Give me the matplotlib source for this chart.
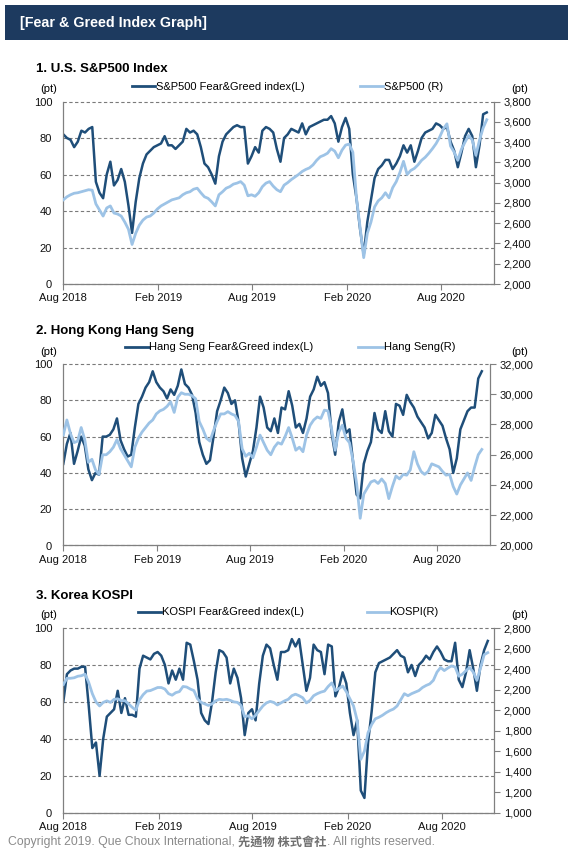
import matplotlib
matplotlib.use("Agg")
import matplotlib.pyplot as plt
import pandas as pd
from matplotlib.ticker import FuncFormatter, MultipleLocator
from matplotlib.lines import Line2D
from matplotlib.patches import Rectangle

plt.rcParams['font.family'] = ['Liberation Sans', 'DejaVu Sans']

W, H = 572, 855
DARK = '#1f4e79'
LIGHT = '#9dc3e6'
GRAY = '#808080'

# ---------------- data (weekly, from Aug 2018) ----------------
start = pd.Timestamp('2018-08-01')
weeks = pd.date_range(start, periods=118, freq='7D')

spx_fg = [82, 80, 79, 75, 78, 84, 83, 85, 86, 56,
          50, 47, 60, 67, 54, 57, 63, 56, 43, 28,
          45, 58, 66, 71, 73, 75, 76, 77, 81, 76,
          76, 74, 76, 78, 85, 83, 84, 82, 75, 66,
          64, 60, 55, 70, 78, 82, 84, 86, 87, 86,
          86, 66, 70, 75, 72, 84, 86, 85, 83, 74,
          67, 80, 82, 85, 84, 83, 88, 82, 86, 87,
          88, 89, 90, 90, 92, 88, 78, 86, 91, 85,
          60, 47, 30, 16, 34, 46, 58, 63, 65, 68,
          68, 63, 66, 70, 76, 72, 76, 67, 73, 80,
          83, 84, 85, 88, 87, 85, 86, 78, 73, 64,
          72, 81, 85, 81, 64, 76, 93, 94]
spx = [2830, 2860, 2880, 2895, 2900, 2910, 2920, 2930, 2925, 2790,
       2730, 2670, 2750, 2770, 2700, 2690, 2670, 2610, 2540, 2390,
       2500, 2580, 2630, 2660, 2670, 2700, 2740, 2770, 2790, 2810,
       2830, 2840, 2850, 2880, 2900, 2910, 2935, 2945, 2900, 2860,
       2845, 2810, 2770, 2880, 2910, 2945, 2960, 2985, 2995, 3010,
       2975, 2870, 2880, 2865, 2900, 2960, 2995, 3010, 2965, 2930,
       2910, 2975, 3000, 3030, 3055, 3080, 3110, 3130, 3145, 3175,
       3220, 3255, 3270, 3290, 3335, 3310, 3245, 3320, 3370, 3380,
       3300, 2850, 2560, 2260, 2500, 2610, 2760, 2820, 2850, 2900,
       2850, 2950, 3010, 3100, 3210, 3080, 3120, 3140, 3175, 3220,
       3250, 3290, 3335, 3385, 3450, 3530, 3580, 3360, 3300, 3220,
       3330, 3400, 3465, 3420, 3270, 3420, 3540, 3620]

hsi_fg = [45, 56, 62, 45, 52, 60, 55, 42, 36, 40,
          39, 60, 60, 61, 64, 70, 58, 53, 49, 50,
          65, 78, 82, 87, 90, 96, 90, 87, 85, 81,
          86, 83, 88, 97, 89, 87, 83, 73, 57, 50,
          45, 47, 60, 74, 80, 87, 84, 78, 80, 68,
          48, 38, 45, 52, 65, 82, 76, 65, 63, 70,
          62, 76, 75, 85, 77, 65, 67, 62, 70, 82,
          86, 93, 88, 90, 84, 62, 50, 68, 75, 62,
          64, 46, 28, 26, 45, 52, 57, 73, 64, 62,
          74, 63, 60, 78, 77, 72, 83, 79, 76, 71,
          68, 65, 59, 62, 72, 69, 66, 59, 53, 40,
          48, 64, 69, 74, 76, 76, 92, 96]
hsi = [27300, 28300, 27400, 26800, 26900, 27800, 27000, 25500, 25700, 25000,
       24700, 26000, 26000, 26200, 26500, 27000, 26400, 26000, 25600, 25200,
       26500, 27100, 27500, 27800, 28100, 28300, 28700, 28900, 29000, 29200,
       29500, 28800, 29800, 30100, 30000, 30000, 29900, 29700, 28200, 27700,
       27100, 26900, 27600, 28200, 28700, 28700, 28850, 28700, 28600, 28200,
       26400, 25900, 26100, 25800, 26500, 27300, 26800, 26300, 26000, 26500,
       26800, 26700, 27200, 27800, 27100, 26300, 26500, 26200, 27300, 27950,
       28300, 28500, 28400, 28950, 28900, 27700, 26300, 27500, 27950, 27100,
       26800, 25600, 24100, 21800, 23400, 23800, 24200, 24300, 24100, 24400,
       24100, 23100, 23900, 24600, 24400, 24700, 24650, 25000, 26200, 25400,
       24900, 24700, 24900, 25400, 25300, 25200, 24900, 24650, 24700, 23900,
       23400, 24000, 24400, 24800, 24300, 25200, 26000, 26350]

kospi_fg = [60, 75, 77, 78, 78, 79, 79, 58, 35, 38,
            20, 40, 52, 54, 56, 66, 54, 62, 53, 53,
            52, 78, 85, 84, 83, 86, 87, 85, 80, 70,
            77, 72, 78, 72, 92, 91, 82, 72, 54, 50,
            48, 60, 76, 88, 87, 84, 70, 78, 73, 62,
            42, 54, 56, 50, 70, 85, 91, 89, 80, 72,
            87, 87, 88, 94, 90, 94, 80, 66, 73, 91,
            88, 87, 75, 91, 90, 63, 68, 76, 70, 54,
            42, 50, 12, 8, 38, 55, 76, 81, 82, 83,
            84, 86, 88, 85, 84, 76, 80, 74, 80, 82,
            85, 83, 87, 90, 87, 83, 82, 82, 92, 72,
            68, 76, 88, 78, 66, 80, 88, 93]
kospi = [2250, 2310, 2310, 2315, 2330, 2335, 2350, 2270, 2160, 2080,
         2040, 2075, 2090, 2075, 2105, 2110, 2092, 2092, 2060, 2027,
         2000, 2100, 2150, 2185, 2190, 2205, 2220, 2220, 2205, 2160,
         2145, 2170, 2180, 2230, 2225, 2205, 2190, 2110, 2075, 2060,
         2045, 2060, 2090, 2105, 2100, 2105, 2095, 2080, 2075, 2045,
         1935, 1945, 1915, 1950, 1995, 2040, 2070, 2085, 2075, 2050,
         2070, 2090, 2105, 2140, 2155, 2140, 2120, 2070, 2095, 2140,
         2160, 2175, 2185, 2230, 2265, 2190, 2210, 2235, 2180, 2110,
         2040, 1900, 1520, 1600, 1780, 1860, 1915, 1930, 1950, 1975,
         1995, 2010, 2040, 2100, 2160, 2140, 2160, 2175, 2190, 2220,
         2240, 2255, 2290, 2370, 2415, 2385, 2410, 2430, 2420, 2330,
         2350, 2385, 2415, 2370, 2290, 2410, 2540, 2560]

xtick_dates = ['2018-08-01', '2019-02-01', '2019-08-01', '2020-02-01', '2020-08-01']
xtick_labels = ['Aug 2018', 'Feb 2019', 'Aug 2019', 'Feb 2020', 'Aug 2020']
left_ticks = [0, 20, 40, 60, 80, 100]

fig = plt.figure(figsize=(W / 100, H / 100), dpi=100)


def fx(x):
    return x / W


def fy(y):
    return 1 - y / H


# header banner
fig.add_artist(Rectangle((fx(5), fy(40.5)), fx(563), 35.5 / H, transform=fig.transFigure,
                         facecolor='#1d3a5f', edgecolor='none'))
fig.text(fx(20), fy(23), '[Fear & Greed Index Graph]', color='white', fontsize=10.3,
         fontweight='bold', va='center', ha='left')


def chart(box, title, title_y, leg_y, dark_seg, light_seg, dark_label, light_label,
          pt_y, fg, idx, rlim, rstep, xend_days):
    l, r, t, b = box
    ax = fig.add_axes([fx(l), fy(b), (r - l) / W, (b - t) / H])
    ax.plot(weeks, fg, color=DARK, lw=1.8, solid_joinstyle='round')
    ax.set_ylim(0, 100)
    ax.set_yticks(left_ticks)
    ax.set_xlim(start, start + pd.Timedelta(days=xend_days))
    ax.set_xticks(pd.to_datetime(xtick_dates))
    ax.set_xticklabels(xtick_labels)
    for s in ['top', 'right']:
        ax.spines[s].set_visible(False)
    for s in ['left', 'bottom']:
        ax.spines[s].set_color(GRAY)
        ax.spines[s].set_linewidth(0.9)
    ax.tick_params(axis='y', length=0, pad=8, labelsize=8, labelcolor='#111111')
    ax.tick_params(axis='x', length=4, width=0.8, color=GRAY, pad=2.5, labelsize=8,
                   labelcolor='#111111', direction='out')
    ax.yaxis.grid(True, color='#7a7a7a', linestyle=(0, (3, 2.2)), linewidth=0.8)
    ax.set_axisbelow(True)
    for gl in ax.get_ygridlines():
        gl.set_clip_on(False)
    ax.patch.set_alpha(0)

    ax2 = ax.twinx()
    ax2.plot(weeks, idx, color=LIGHT, lw=2.0, solid_joinstyle='round')
    ax2.set_ylim(*rlim)
    ax2.yaxis.set_major_locator(MultipleLocator(rstep))
    ax2.yaxis.set_major_formatter(FuncFormatter(lambda v, p: f'{int(round(v)):,}'))
    for s in ['top', 'left', 'bottom']:
        ax2.spines[s].set_visible(False)
    ax2.spines['right'].set_color(GRAY)
    ax2.spines['right'].set_linewidth(0.9)
    ax2.tick_params(axis='y', length=4, width=0.8, color=GRAY, pad=3, labelsize=8,
                    labelcolor='#111111', direction='out')

    # title
    fig.text(fx(35.5), fy(title_y), title, fontsize=9.5, fontweight='bold', va='center', ha='left')
    # legend
    fig.add_artist(Line2D([fx(dark_seg[0]), fx(dark_seg[1])], [fy(leg_y), fy(leg_y)],
                          color=DARK, lw=2.0, transform=fig.transFigure))
    fig.text(fx(dark_seg[1] + 0.5), fy(leg_y), dark_label, fontsize=8, va='center', ha='left')
    fig.add_artist(Line2D([fx(light_seg[0]), fx(light_seg[1])], [fy(leg_y), fy(leg_y)],
                          color=LIGHT, lw=2.0, transform=fig.transFigure))
    fig.text(fx(light_seg[1] + 0.5), fy(leg_y), light_label, fontsize=8, va='center', ha='left')
    # units
    fig.text(fx(48.5), fy(pt_y), '(pt)', fontsize=8, va='center', ha='center')
    fig.text(fx(520), fy(pt_y), '(pt)', fontsize=8, va='center', ha='center')
    return ax, ax2


chart((63.3, 494, 101.5, 284), '1. U.S. S&P500 Index', 69.5, 86.5, (131.7, 155), (360, 383),
      'S&P500 Fear&Greed index(L)', 'S&P500 (R)', 89.5, spx_fg, spx, (2000, 3800), 200, 833)
chart((63.3, 490, 364, 545.5), '2. Hong Kong Hang Seng', 331, 347, (125, 148.5), (357.5, 383),
      'Hang Seng Fear&Greed index(L)', 'Hang Seng(R)', 352, hsi_fg, hsi, (20000, 32000), 2000, 835)
chart((63.3, 494, 628, 812.7), '3. Korea KOSPI', 596, 612, (137.5, 161), (367, 389),
      'KOSPI Fear&Greed index(L)', 'KOSPI(R)', 615, kospi_fg, kospi, (1000, 2800), 200, 831)

# footer
fig.canvas.draw()
renderer = fig.canvas.get_renderer()
parts = [("Copyright 2019. Que Choux International, ", 'normal', ['Liberation Sans', 'DejaVu Sans'], '#8a8a8a'),
         ("先通物 株式會社", 'bold', ['Noto Sans CJK TC', 'DejaVu Sans'], '#707070'),
         (". All rights reserved.", 'normal', ['Liberation Sans', 'DejaVu Sans'], '#8a8a8a')]
xpos = 8
for txt, wgt, fam, col in parts:
    t = fig.text(fx(xpos), fy(842), txt, fontsize=8.8, fontweight=wgt, family=fam, color=col,
                 va='center', ha='left')
    bb = t.get_window_extent(renderer)
    xpos = bb.x1

fig.savefig('out.png', dpi=100)
